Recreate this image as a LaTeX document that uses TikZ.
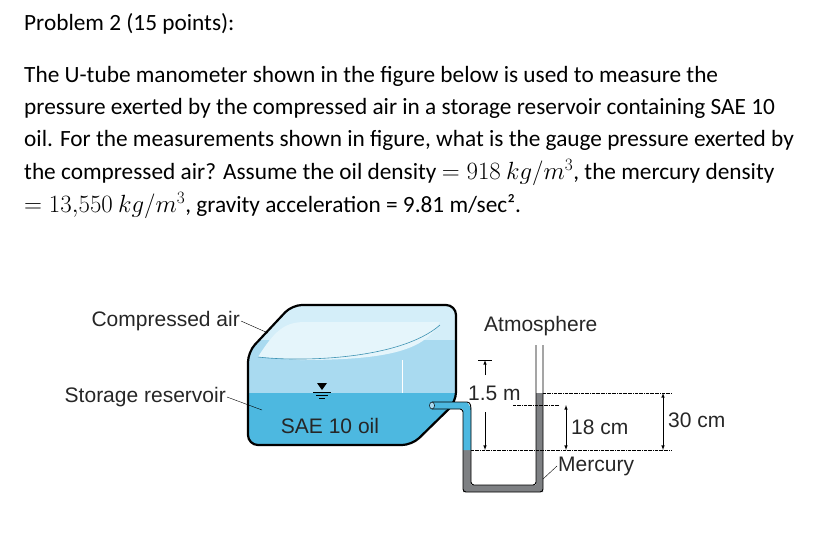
\documentclass[tikz,border=0pt]{standalone}
\usepackage{fontspec}
\setmainfont{Carlito}
\newfontfamily\hel{Liberation Sans}
\begin{document}
\begin{tikzpicture}[x=1pt,y=-1pt,
  para/.style={anchor=west,font=\fontsize{23.3}{26}\selectfont,inner sep=0},
  lab/.style={font=\hel\fontsize{21}{23}\selectfont,text=black!85,inner sep=1pt},
  dim/.style={densely dash dot,line width=0.5pt},
  arr/.style={-latex,line width=0.6pt},
  lead/.style={line width=0.4pt}]
\definecolor{oil}{HTML}{4DB8E0}
\definecolor{air}{HTML}{D4EEF9}
\definecolor{face}{HTML}{A9DAF0}
\definecolor{hg}{HTML}{7E8083}
\useasboundingbox (0,0) rectangle (826,547);
\node[para] (t0) at (24,24) {Problem 2 (15 points):};
\node[para] (t1) at (24,76) {The U-tube manometer shown in the figure below is used to measure the};
\node[para] (t2) at (24,108) {pressure exerted by the compressed air in a storage reservoir containing SAE 10};
\node[para] (t3) at (24,140) {oil. For the measurements shown in figure, what is the gauge pressure exerted by};
\node[para] (t4) at (24,173) {the compressed air? Assume the oil density $=918\ kg/m^3$, the mercury density};
\node[para] (t5) at (24,206) {$=13{,}550\ kg/m^3$, gravity acceleration = 9.81 m/sec².};
% tank
\begin{scope}
\clip[rounded corners=10pt] (248,352) -- (292,305) -- (456,305) -- (456,402) -- (412,445) -- (248,445) -- cycle;
\fill[air] (240,300) rectangle (460,450);
\fill[face] (240,340) rectangle (460,395);
\fill[air!60!white] (258,357) .. controls (275,330) and (285,322) .. (305,322) -- (440,322) .. controls (425,350) and (390,360) .. (300,360) -- cycle;
\draw[oil!80!black,line width=0.6pt] (258,357) .. controls (300,362) and (400,360) .. (440,325);
\draw[white,line width=0.6pt] (402,360) -- (402,440);
\fill[oil] (240,393) rectangle (460,450);
\end{scope}
\draw[line width=2.2pt,rounded corners=10pt] (248,352) -- (292,305) -- (456,305) -- (456,402) -- (412,445) -- (248,445) -- cycle;
% free surface symbol
\fill (317,383) -- (327,383) -- (322,390) -- cycle;
\draw[line width=0.5pt] (313,392) -- (331,392) (316,395) -- (328,395) (319,398) -- (325,398);
% pipe and U-tube
\fill[hg] (463,450) -- (463,492) -- (543,492) -- (543,393) -- (536,393) -- (536,485) -- (471,485) -- (471,450) -- cycle;
\fill[oil] (432,402) -- (467,402) -- (471,408) -- (471,450) -- (463,450) -- (463,409) -- (432,409) -- cycle;
\draw[line width=0.9pt,rounded corners=3pt] (432,402) -- (470,402) -- (471,408) -- (471,485) -- (536,485) -- (536,345);
\draw[line width=0.9pt,rounded corners=3pt] (432,409) -- (463,409) -- (463,492) -- (543,492) -- (543,345);
\draw[line width=0.5pt,fill=face] (432,405.5) ellipse (2.5 and 3.5);
% dims
\coordinate (hgtop) at (543,393);
\coordinate (oilint) at (471,450);
\draw[dim] (hgtop) -- (672,393);
\draw[dim] (513,405) -- (560,405);
\draw[dim] (oilint) -- (672,450);
\coordinate (b0) at (478,360); \coordinate (b1) at (492,360);
\draw[line width=0.5pt] (b0) -- (b1);
\draw[arr] (485,375) -- (485,360);
\draw[arr] (485,412) -- (485,450);
\node[lab,anchor=west] (m15) at (467,393) {1.5 m};
\draw[arr,latex-latex] (566,405) -- (566,450);
\node[lab,anchor=west] (c18) at (570,427) {18 cm};
\draw[arr,latex-latex] (663,393) -- (663,450);
\node[lab,anchor=west] (c30) at (667,420) {30 cm};
\node[lab,anchor=west] (atm) at (483,326) {Atmosphere};
\node[lab,anchor=west] (merc) at (557,466) {Mercury};
\draw[lead] (merc.west) -- (543,479);
\node[lab,anchor=east] (ca) at (241,321) {Compressed air};
\draw[lead] (ca.east) -- (268,333);
\node[lab,anchor=east] (sr) at (227,397) {Storage reservoir};
\draw[lead] (sr.east) -- (262,410);
\node[lab] (sae) at (330,426) {SAE 10 oil};
\end{tikzpicture}
\end{document}
